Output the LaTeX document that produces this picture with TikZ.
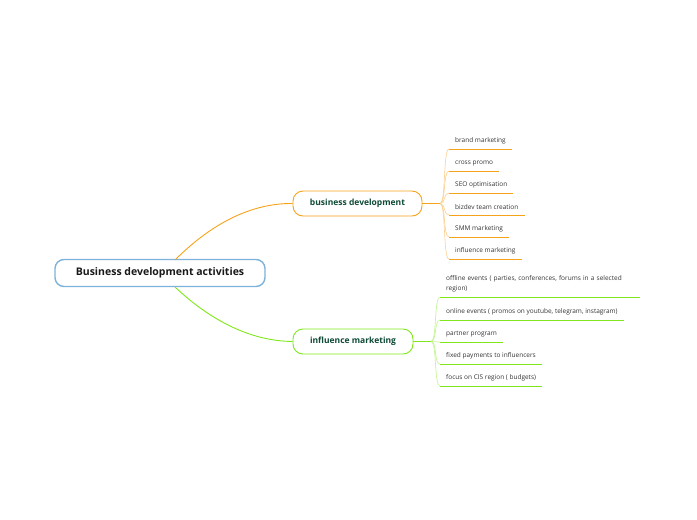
\documentclass[tikz,border=0pt]{standalone}
\usepackage{fontspec}
\setmainfont{Open Sans}
\definecolor{oc}{HTML}{F7A21B}
\definecolor{gc}{HTML}{7FE81A}
\definecolor{rc}{HTML}{7DB3DA}
\definecolor{tc}{HTML}{0E4A36}
\begin{document}
\begin{tikzpicture}[x=1pt,y=-1pt,
  root/.style={draw=rc, line width=1.4pt, rounded corners=9pt, fill=white, minimum width=210pt, minimum height=27pt, font=\bfseries\fontsize{10.5}{12}\selectfont, text=black!90},
  mid/.style={line width=0.9pt, rounded corners=10pt, fill=white, minimum height=25pt, font=\bfseries\fontsize{8.5}{10}\selectfont, text=tc},
  leaf/.style={anchor=south west, inner xsep=6pt, inner ysep=5pt, font=\fontsize{6.5}{10}\selectfont, text=black!80, align=left},
  orl/.style={color=oc, line width=1pt},
  grl/.style={color=gc, line width=1pt},
  ocon/.style={color=oc!50, line width=0.6pt},
  gcon/.style={color=gc!50, line width=0.6pt}]
\useasboundingbox (0,0) rectangle (697,520);
\node[root] (root) at (160,273) {Business development activities};
\node[mid, draw=oc, minimum width=129pt] (bd) at (357.5,203.5) {business development};
\node[mid, draw=gc, minimum width=120pt] (im) at (353,341.5) {influence marketing};
\coordinate (r1) at (175,260);
\coordinate (r2) at (175,287);
\draw[color=oc, line width=0.9pt] (r1) .. controls (210,225) and (250,203) .. (bd.west);
\draw[color=gc, line width=0.9pt] (r2) .. controls (210,320) and (250,341) .. (im.west);
\coordinate (bh) at (440,203.5);
\coordinate (ih) at (431,341.5);
\draw[color=oc, line width=1.2pt] (bd.east) -- (bh);
\draw[color=gc, line width=1.2pt] (im.east) -- (ih);
\foreach \t/\y/\n in {brand marketing/149/b1, cross promo/171/b2, SEO optimisation/193/b3, bizdev team creation/215/b4, SMM marketing/237/b5, influence marketing/259/b6}{
  \node[leaf] (\n) at (449,\y) {\t};
  \draw[orl] (\n.south west) -- (\n.south east);
  \draw[ocon] (bh) .. controls (446,203.5) and (443,\y) .. (\n.south west);
}
\node[leaf, text width=188pt] (g1) at (440,297) {offline events ( parties, conferences, forums in a selected region)};
\draw[grl] (g1.south west) -- (g1.south east);
\draw[gcon] (ih) .. controls (437,341.5) and (434,297) .. (g1.south west);
\foreach \t/\y/\n in {{online events ( promos on youtube, telegram, instagram)}/320/g2, {partner program}/342/g3, {fixed payments to influencers}/364/g4, {focus on CIS region ( budgets)}/386/g5}{
  \node[leaf] (\n) at (440,\y) {\t};
  \draw[grl] (\n.south west) -- (\n.south east);
  \draw[gcon] (ih) .. controls (437,341.5) and (434,\y) .. (\n.south west);
}
\end{tikzpicture}
\end{document}
